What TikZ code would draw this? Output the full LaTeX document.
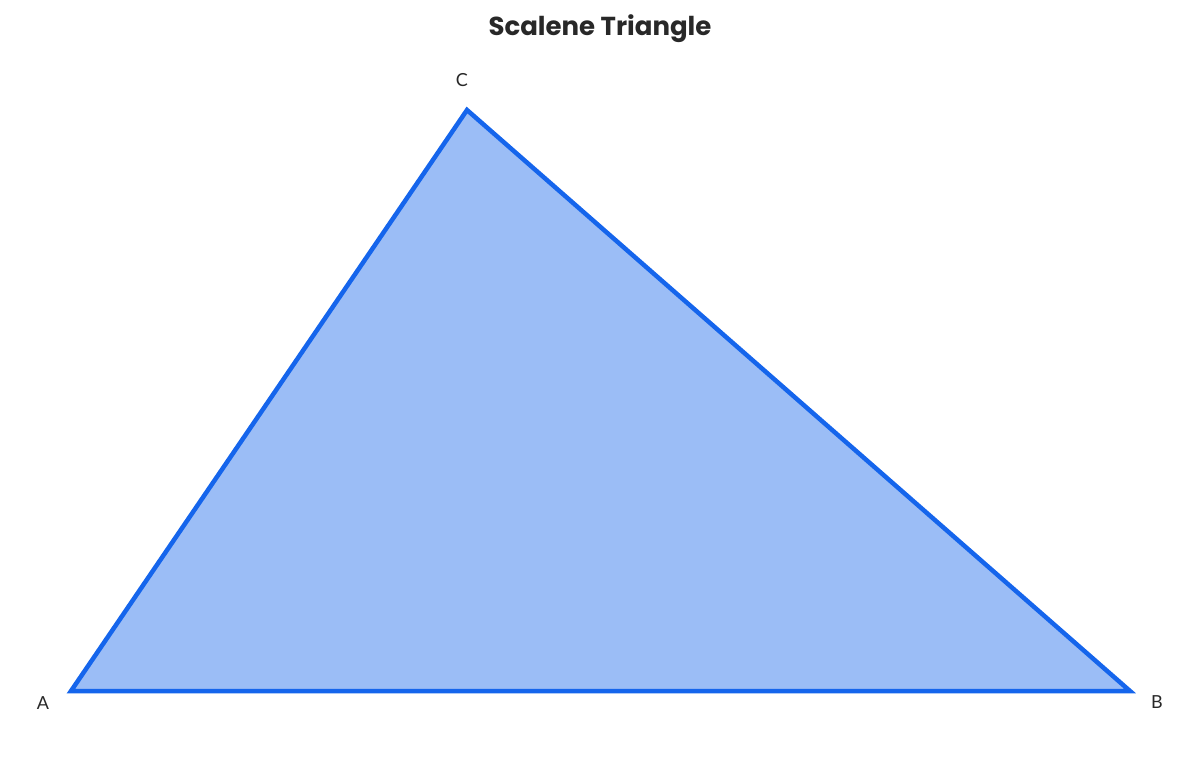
\documentclass[tikz,border=0pt]{standalone}
\usepackage{fontspec}
\setmainfont{Lato}
\newfontfamily\titlefont{Poppins}
\definecolor{triline}{RGB}{21,101,236}
\definecolor{trifill}{RGB}{155,189,246}
\definecolor{labelgray}{RGB}{40,40,40}
\begin{document}
\begin{tikzpicture}[x=1pt,y=-1pt,
    vertexlabel/.style={text=labelgray, font=\fontsize{18}{21}\selectfont}]
    \useasboundingbox (0,0) rectangle (1200,763);
    \coordinate (A) at (71,691);
    \coordinate (B) at (1130,691);
    \coordinate (C) at (467,110);
    \draw[line width=4.5pt, draw=triline, fill=trifill, line join=miter] (A) -- (B) -- (C) -- cycle;
    \node[vertexlabel] (labA) at (43,703) {A};
    \node[vertexlabel] (labB) at (1157,702) {B};
    \node[vertexlabel] (labC) at (462,80) {C};
    \node[text=labelgray, font=\titlefont\fontsize{26}{30}\selectfont\bfseries] (title) at (600,29) {Scalene Triangle};
\end{tikzpicture}
\end{document}
